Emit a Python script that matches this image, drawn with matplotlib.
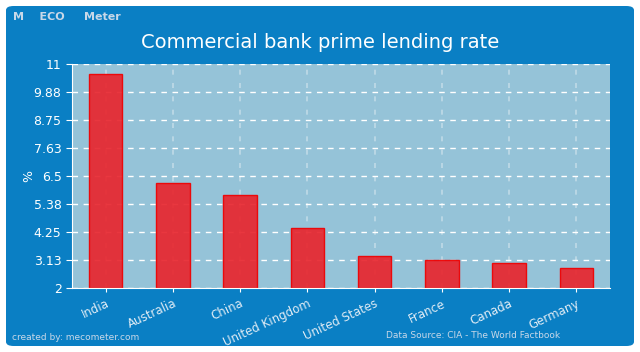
import matplotlib.pyplot as plt
from matplotlib.patches import FancyBboxPatch

countries = ['India', 'Australia', 'China', 'United Kingdom', 'United States',
             'France', 'Canada', 'Germany']
rates = [10.6, 6.22, 5.73, 4.41, 3.29, 3.12, 3.0, 2.8]
yticks = [2, 3.13, 4.25, 5.38, 6.5, 7.63, 8.75, 9.88, 11]
ytick_labels = ['2', '3.13', '4.25', '5.38', '6.5', '7.63', '8.75', '9.88', '11']

blue = '#0a7fc4'
fig = plt.figure(figsize=(6.4, 3.52), dpi=100)
fig.patch.set_facecolor('white')
fig.patches.append(FancyBboxPatch((6 / 640, 6 / 352), 628 / 640, 340 / 352,
                                  boxstyle='round,pad=0,rounding_size=0.012',
                                  transform=fig.transFigure, facecolor=blue,
                                  edgecolor='none', zorder=-5))

ax = fig.add_axes([72 / 640, 64 / 352, 538 / 640, 224 / 352])
ax.set_zorder(1)
ax.set_facecolor('#95c3d8')
x = range(len(countries))
ax.bar(x, [r - 2 for r in rates], bottom=2, width=0.5, color='#e8262e',
       edgecolor='#f00000', linewidth=1, alpha=0.92, zorder=2)

ax.set_xlim(-0.5, len(countries) - 0.5)
ax.set_ylim(2, 11)
ax.set_yticks(yticks)
ax.set_yticklabels(ytick_labels)
ax.set_xticks(list(x))
ax.set_xticklabels(countries, rotation=25, ha='right', rotation_mode='anchor')

ax.set_axisbelow(True)
ax.grid(axis='y', color='white', linestyle=(0, (4, 4)), linewidth=1)
ax.grid(axis='x', color='white', linestyle=(0, (3, 5)), linewidth=1.2, alpha=0.4)

for s in ['top', 'right']:
    ax.spines[s].set_visible(False)
for s in ['left', 'bottom']:
    ax.spines[s].set_color('white')
ax.tick_params(axis='y', colors='white', labelcolor='white', labelsize=9, length=4)
ax.tick_params(axis='x', colors='white', labelcolor='#e0ecf5', labelsize=8.5, length=3)
ax.set_ylabel('%', color='white', fontsize=9, labelpad=-1)

fig.text(0.5, 1 - 42 / 352, 'Commercial bank prime lending rate', color='white',
         fontsize=14, ha='center', va='center')
fig.text(13 / 640, 1 - 17 / 352, 'M    ECO     Meter', color='#c8d8e8', fontsize=8,
         fontweight='bold', va='center')
fig.text(12 / 640, 1 - 338 / 352, 'created by: mecometer.com', color='#c8d8e8',
         fontsize=6.5, va='center')
fig.text(560 / 640, 1 - 336 / 352, 'Data Source: CIA - The World Factbook',
         color='#c8d8e8', fontsize=6.5, va='center', ha='right')

fig.savefig('out.png', dpi=100, facecolor=fig.get_facecolor())
